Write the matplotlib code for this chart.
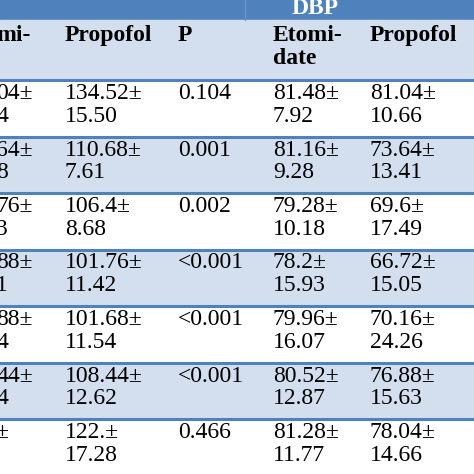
import matplotlib.pyplot as plt
from matplotlib.patches import Rectangle

plt.rcParams['font.family'] = ['Liberation Serif', 'DejaVu Serif']

headers = ["mi-", "Propofol", "P", "Etomi-\ndate", "Propofol"]
etomi_sbp = ["04±\n4", "64±\n8", "76±\n3", "88±\n1", "88±\n4", "44±\n4", "±\n"]
propofol_sbp = ["134.52±\n15.50", "110.68±\n7.61", "106.4±\n8.68", "101.76±\n11.42",
                "101.68±\n11.54", "108.44±\n12.62", "122.±\n17.28"]
p_values = ["0.104", "0.001", "0.002", "<0.001", "<0.001", "<0.001", "0.466"]
etomi_dbp = ["81.48±\n7.92", "81.16±\n9.28", "79.28±\n10.18", "78.2±\n15.93",
             "79.96±\n16.07", "80.52±\n12.87", "81.28±\n11.77"]
propofol_dbp = ["81.04±\n10.66", "73.64±\n13.41", "69.6±\n17.49", "66.72±\n15.05",
                "70.16±\n24.26", "76.88±\n15.63", "78.04±\n14.66"]

W, H = 474, 474
fig = plt.figure(figsize=(4.74, 4.74), dpi=100)
ax = fig.add_axes([0, 0, 1, 1])
ax.set_xlim(0, W)
ax.set_ylim(H, 0)
ax.axis('off')

dark = '#4f81bd'
light = '#d3dfee'
col_x = [-4, 65, 178, 273, 370]
fs = 17

# top banner
ax.add_patch(Rectangle((0, 0), W, 20, color=dark))
ax.plot([245, 245], [0, 20], color='#6f95c8', lw=1)
ax.text(315, 8, "DBP", color='white', fontsize=fs, fontweight='bold', ha='center', va='center')

# header row
ax.add_patch(Rectangle((0, 20), W, 60, color=light))
for x, h in zip(col_x, headers):
    ax.text(x, 25, h, fontsize=fs, fontweight='bold', va='top', linespacing=1.1)

columns = [etomi_sbp, propofol_sbp, p_values, etomi_dbp, propofol_dbp]
row_h = 56.5
for i in range(len(p_values)):
    y0 = 80 + i * row_h
    ax.add_patch(Rectangle((0, y0), W, row_h, color='white' if i % 2 == 0 else light))
    ax.plot([0, W], [y0, y0], color=dark, lw=2.2)
    for x, col in zip(col_x, columns):
        ax.text(x, y0 + 3, col[i], fontsize=fs, va='top', linespacing=1.12)

fig.savefig('out.png', dpi=100)
